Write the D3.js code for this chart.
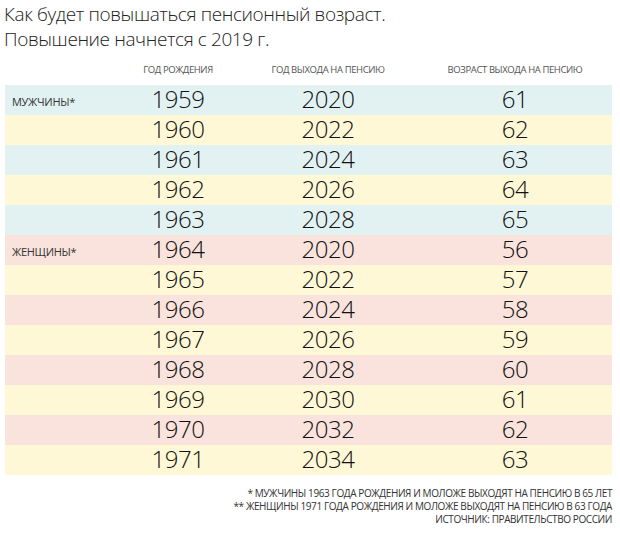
<!DOCTYPE html>
<html><head><meta charset="utf-8">
<script src="https://cdn.jsdelivr.net/npm/d3@7"></script>
<style>body{margin:0;background:#fff}</style>
</head><body>
<svg id="c" width="620" height="533"></svg>
<script>
const birthYears = [1959,1960,1961,1962,1963,1964,1965,1966,1967,1968,1969,1970,1971];
const retireYears = [2020,2022,2024,2026,2028,2020,2022,2024,2026,2028,2030,2032,2034];
const retireAges = [61,62,63,64,65,56,57,58,59,60,61,62,63];
const groups = ["m","m","m","m","m","f","f","f","f","f","f","f","f"];
const columns = ["ГОД РОЖДЕНИЯ","ГОД ВЫХОДА НА ПЕНСИЮ","ВОЗРАСТ ВЫХОДА НА ПЕНСИЮ"];
const notes = ["* МУЖЧИНЫ 1963 ГОДА РОЖДЕНИЯ И МОЛОЖЕ ВЫХОДЯТ НА ПЕНСИЮ В 65 ЛЕТ",
  "** ЖЕНЩИНЫ 1971 ГОДА РОЖДЕНИЯ И МОЛОЖЕ ВЫХОДЯТ НА ПЕНСИЮ В 63 ГОДА",
  "ИСТОЧНИК: ПРАВИТЕЛЬСТВО РОССИИ"];

const svg = d3.select("#c");
const font = "'Open Sans', sans-serif";
const y = d3.scaleBand().domain(d3.range(birthYears.length)).range([85, 475]);
const colX = [178, 328, 515];

svg.append("text").attr("x",4).attr("y",21).attr("font-family",font).attr("font-weight",300)
  .attr("font-size",19).attr("fill","#222").attr("letter-spacing",-0.4).text("Как будет повышаться пенсионный возраст.");
svg.append("text").attr("x",4).attr("y",46).attr("font-family",font).attr("font-weight",300)
  .attr("font-size",19).attr("fill","#222").attr("letter-spacing",-0.4).text("Повышение начнется с 2019 г.");

svg.selectAll(".hd").data(columns).join("text")
  .attr("x",(d,i)=>colX[i]).attr("y",73).attr("text-anchor","middle")
  .attr("font-family",font).attr("font-size",9.5).attr("fill","#555").attr("letter-spacing",-0.4).text(d=>d);

const rowColor = (g,i)=> {
  const k = g==="m" ? i : i-5;
  return k%2===1 ? "#fff8d6" : (g==="m" ? "#e2f2f3" : "#f9e3dc");
};
const rows = svg.selectAll(".row").data(birthYears).join("g")
  .attr("transform",(d,i)=>`translate(0,${y(i)})`);
rows.append("rect").attr("x",5).attr("width",607).attr("height",y.bandwidth())
  .attr("fill",(d,i)=>rowColor(groups[i],i));
const vals = [birthYears, retireYears, retireAges];
vals.forEach((arr,c)=>{
  rows.append("text").attr("x",colX[c]).attr("y",y.bandwidth()/2+8)
    .attr("text-anchor","middle").attr("font-family",font).attr("font-weight",300)
    .attr("font-size",24).attr("fill","#111").attr("letter-spacing",-0.5).text((d,i)=>arr[i]);
});
rows.filter((d,i)=>i===0||i===5).append("text").attr("x",12).attr("y",y.bandwidth()/2+6)
  .attr("font-family",font).attr("font-size",11).attr("fill","#333").attr("letter-spacing",-0.3)
  .text((d,i)=>i===0?"МУЖЧИНЫ*":"ЖЕНЩИНЫ*");

svg.selectAll(".note").data(notes).join("text")
  .attr("x",612).attr("y",(d,i)=>497+i*13).attr("text-anchor","end")
  .attr("font-family",font).attr("font-size",10).attr("fill","#333").attr("letter-spacing",-0.4).text(d=>d);
</script>
</body></html>
